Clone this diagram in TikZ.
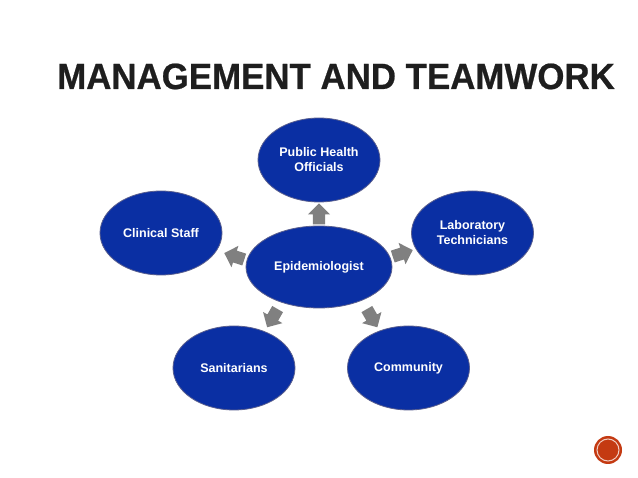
\documentclass[tikz,border=0pt]{standalone}
\usepackage{fontspec}
\setmainfont{Liberation Sans}
\newfontfamily\titlefont[FakeStretch=0.955,FakeBold=0.6]{Liberation Sans Bold}
\usetikzlibrary{shapes.geometric,shapes.arrows}
\definecolor{blobblue}{HTML}{0A2FA3}
\definecolor{blobline}{HTML}{5A5F8E}
\definecolor{arrowgrey}{HTML}{808080}
\definecolor{badgered}{HTML}{C43A12}
\definecolor{titleink}{HTML}{1E1E1E}
\tikzset{
  blob/.style={ellipse,draw=blobline,line width=0.8pt,fill=blobblue,inner sep=0pt,
    minimum width=122pt,minimum height=84pt,text=white,align=center,
    font=\fontsize{12.5}{15}\selectfont\bfseries},
  blockarrow/.style={single arrow,fill=arrowgrey,draw=none,inner xsep=0pt,inner ysep=6pt,
    minimum height=21pt,single arrow head extend=5pt,
    single arrow head indent=0pt,anchor=tip},
  titletext/.style={text=titleink,inner sep=0pt,font=\fontsize{36.5}{40}\titlefont}
}
\begin{document}
\begin{tikzpicture}[x=1pt,y=-1pt]
\useasboundingbox[fill=white] (0,0) rectangle (638,478);
\node[titletext,anchor=base west] (title) at (57,89) {MANAGEMENT AND TEAMWORK};
\node[blob] (top) at (319,160) {Public Health\\Officials};
\node[blob] (left) at (161,233) {Clinical Staff};
\node[blob] (right) at (472.5,233) {Laboratory\\Technicians};
\node[blob] (bl) at (234,368) {Sanitarians};
\node[blob] (br) at (408.5,368) {Community};
\node[blob,minimum width=146pt,minimum height=82pt] (center) at (319,267) {Epidemiologist};
\node[blockarrow,rotate=90] (a1) at (319,203) {};
\node[blockarrow,rotate=162] (a2) at (224,253) {};
\node[blockarrow,rotate=18] (a3) at (413,250) {};
\node[blockarrow,rotate=240] (a4) at (267,327.5) {};
\node[blockarrow,rotate=-60] (a5) at (377.5,327.5) {};
\node[circle,fill=badgered,minimum size=28pt,inner sep=0pt] (badge) at (608,450) {};
\node[circle,draw=white!75!badgered,line width=1pt,minimum size=22pt,inner sep=0pt] (ring) at (608,450) {};
\end{tikzpicture}
\end{document}
